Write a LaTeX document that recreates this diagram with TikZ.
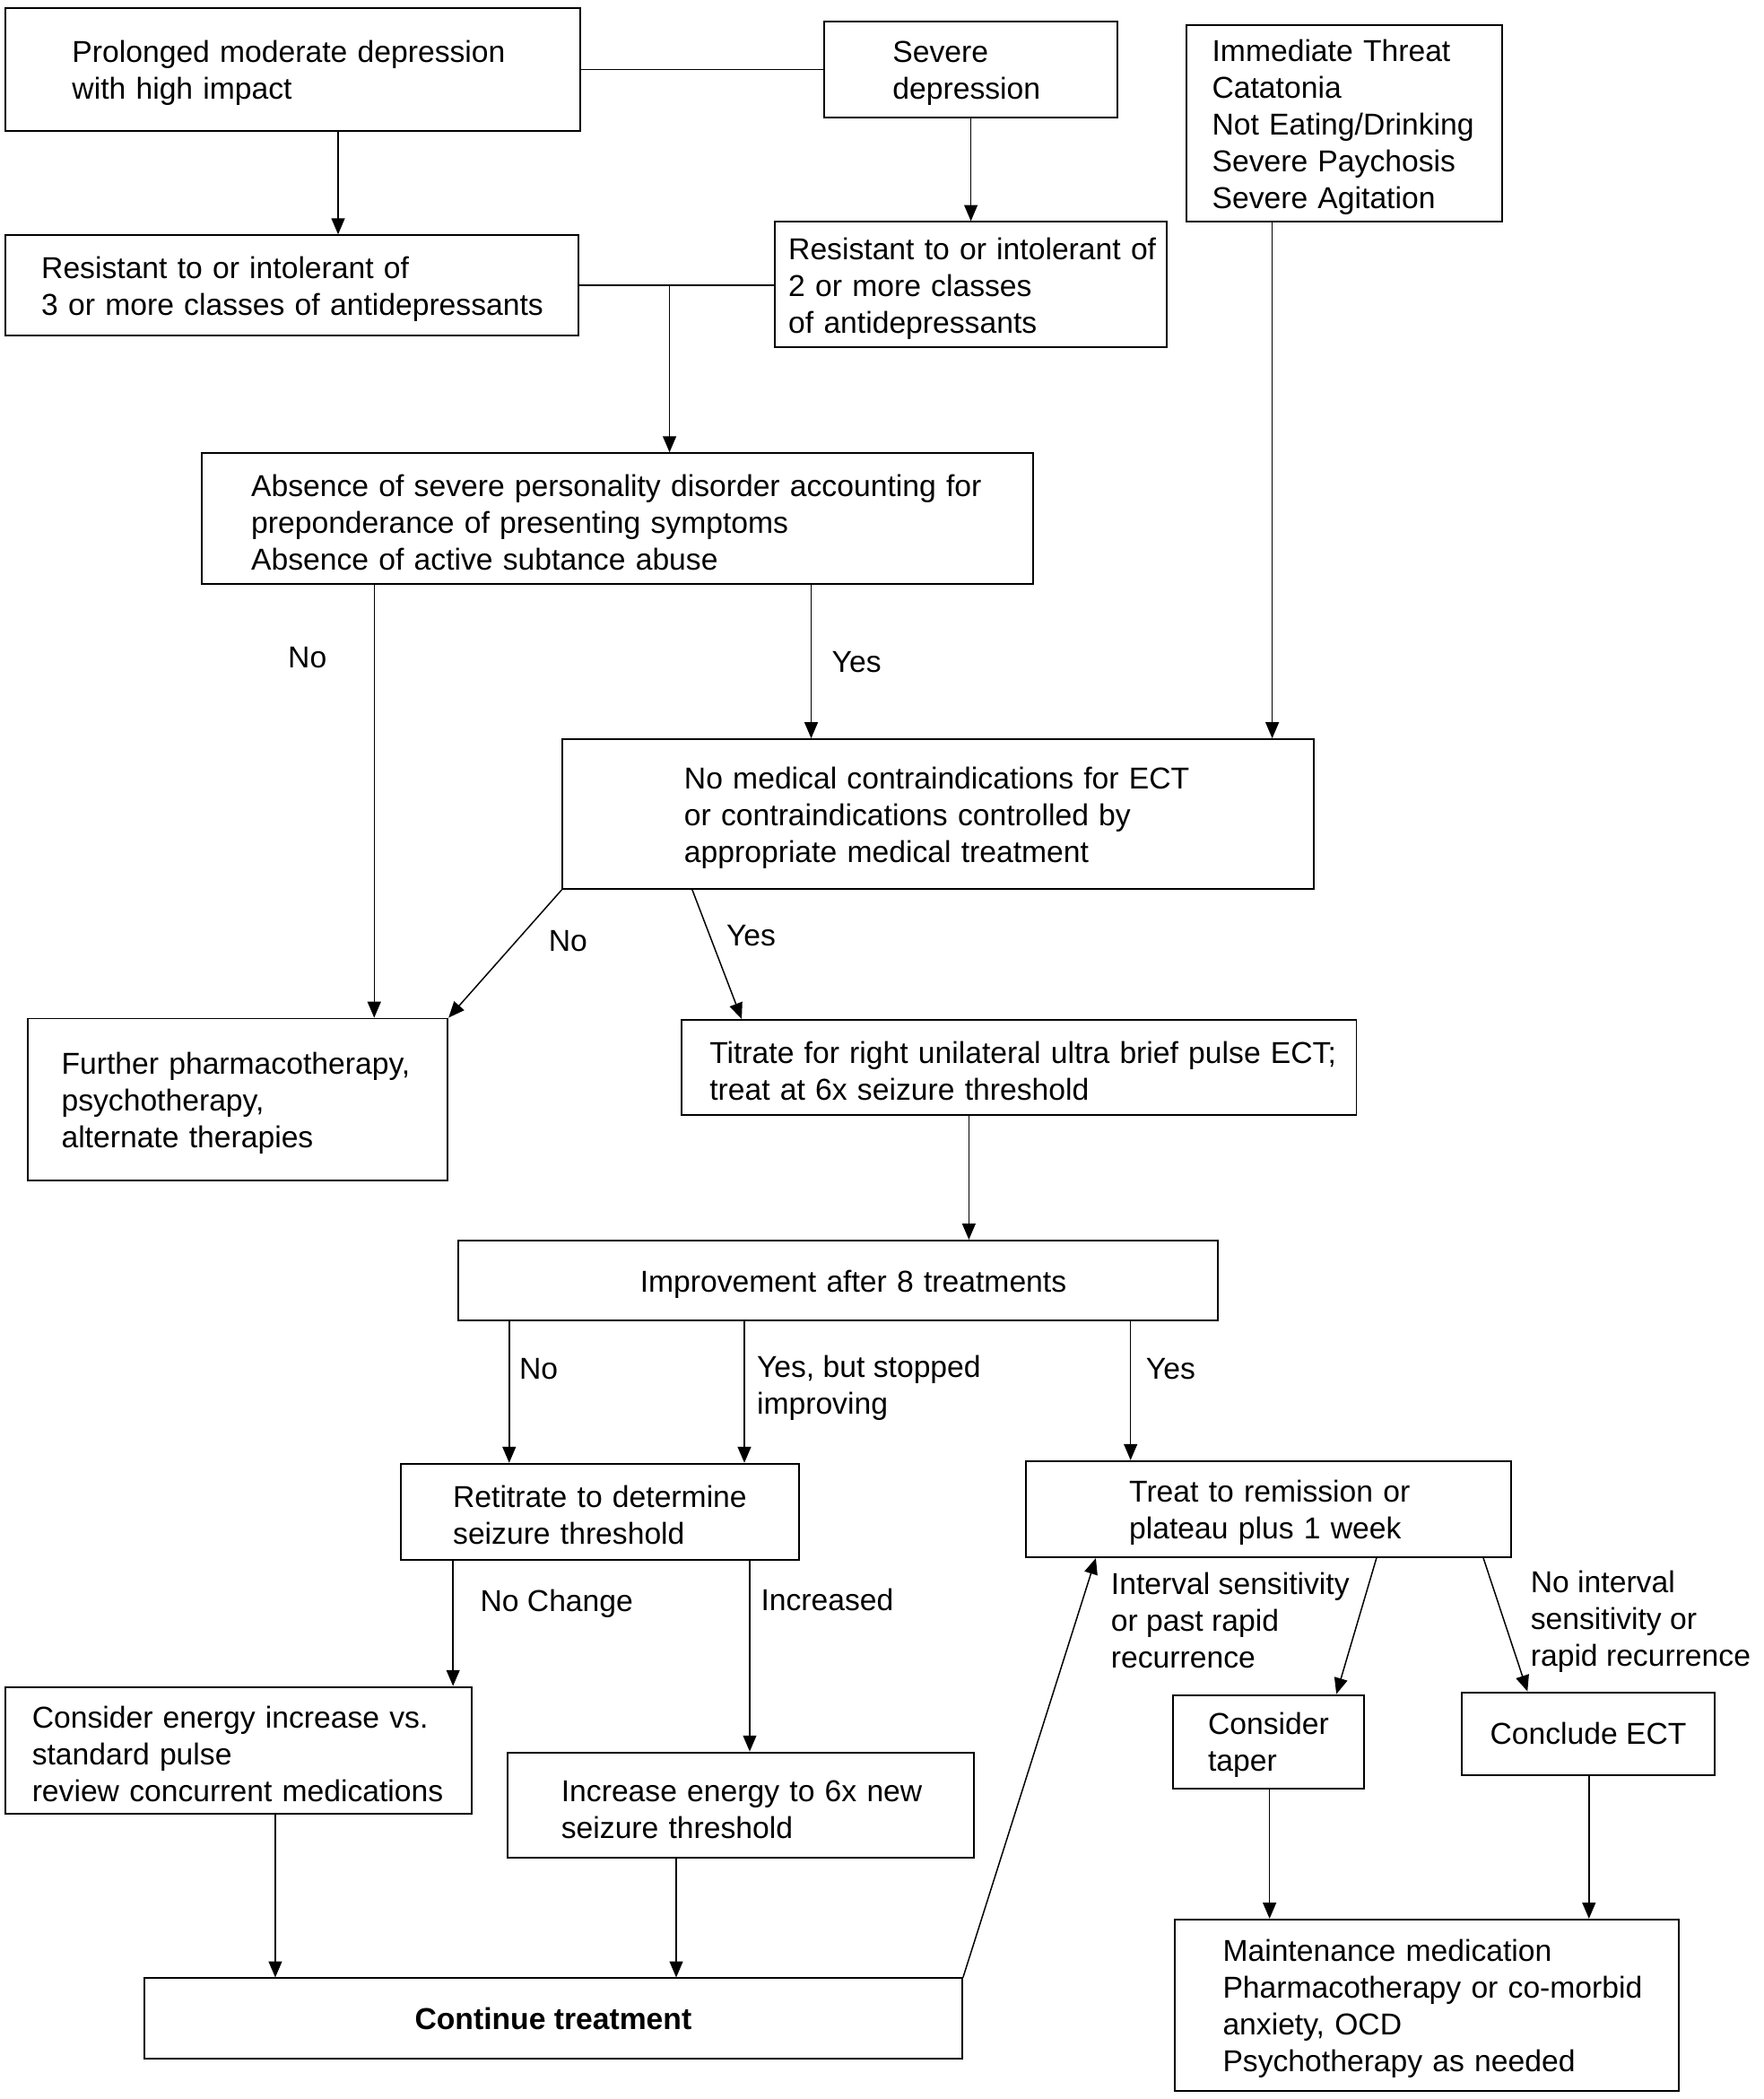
\documentclass[tikz,border=0pt]{standalone}
\usepackage{fontspec}
\setmainfont{Liberation Sans}
\usetikzlibrary{arrows.meta}
\begin{document}
\begin{tikzpicture}[x=0.5pt,y=-0.5pt,
  every node/.style={font=\fontsize{11.3}{13.75}\selectfont},
  box/.style={draw, line width=0.65pt, align=left, inner ysep=0pt},
  cbox/.style={draw, line width=0.65pt, align=center, inner sep=0pt},
  lab/.style={inner sep=0pt, align=left},
  arr/.style={line width=0.5pt, -{Triangle[length=6pt,width=5pt]}},
  ln/.style={line width=0.65pt}]
\newcommand\fl[1]{\mbox{\rule{0pt}{10.9pt}#1}}
\useasboundingbox (0,0) rectangle (1320,1570.3);
% boxes
\node[box, minimum width=215pt, minimum height=46pt, inner xsep=25pt, text width=165pt] (A) at (219,52)
  {\fl{Prolonged moderate depression}\\\mbox{with high impact}};
\node[box, minimum width=109.5pt, minimum height=36pt, inner xsep=25.5pt, text width=58.5pt] (B) at (726.5,52)
  {\fl{Severe}\\\mbox{depression}};
\node[box, minimum width=118pt, minimum height=73.5pt, inner xsep=9.5pt, text width=99pt] (C) at (1006,92.5)
  {\fl{Immediate Threat}\\\mbox{Catatonia}\\\mbox{Not Eating/Drinking}\\\mbox{Severe Paychosis}\\\mbox{Severe Agitation}};
\node[box, minimum width=214.5pt, minimum height=37.5pt, inner xsep=13.5pt, text width=187.5pt] (D) at (218.5,213.5)
  {\fl{Resistant to or intolerant of}\\\mbox{3 or more classes of antidepressants}};
\node[box, minimum width=146.5pt, minimum height=47pt, inner xsep=5pt, text width=136.5pt] (E) at (726.5,213)
  {\fl{Resistant to or intolerant of}\\\mbox{2 or more classes}\\\mbox{of antidepressants}};
\node[box, minimum width=311pt, minimum height=49pt, inner xsep=18.5pt, text width=274pt] (F) at (462,388)
  {\fl{Absence of severe personality disorder accounting for}\\\mbox{preponderance of presenting symptoms}\\\mbox{Absence of active subtance abuse}};
\node[box, minimum width=281pt, minimum height=56pt, inner xsep=45.5pt, text width=190pt] (G) at (702,609)
  {\fl{No medical contraindications for ECT}\\\mbox{or contraindications controlled by}\\\mbox{appropriate medical treatment}};
\node[box, minimum width=157pt, minimum height=60.5pt, inner xsep=12.5pt, text width=132pt] (H) at (178,822.5)
  {\fl{Further pharmacotherapy,}\\\mbox{psychotherapy,}\\\mbox{alternate therapies}};
\node[box, minimum width=252.5pt, minimum height=35.5pt, inner xsep=10.5pt, text width=231.5pt] (I) at (762.5,798.5)
  {\fl{Titrate for right unilateral ultra brief pulse ECT;}\\\mbox{treat at 6x seizure threshold}};
\node[box, minimum width=284pt, minimum height=30pt, inner xsep=68pt, text width=148pt] (J) at (627,958)
  {\fl{Improvement after 8 treatments}};
\node[box, minimum width=149pt, minimum height=36pt, inner xsep=19.5pt, text width=110pt] (K) at (449,1131)
  {\fl{Retitrate to determine}\\\mbox{seizure threshold}};
\node[box, minimum width=181.5pt, minimum height=36pt, inner xsep=38.5pt, text width=104.5pt] (L) at (949.5,1129)
  {\fl{Treat to remission or}\\\mbox{plateau plus 1 week}};
\node[box, minimum width=174.5pt, minimum height=47.5pt, inner xsep=10pt, text width=154.5pt] (M) at (178.5,1309.5)
  {\fl{Consider energy increase vs.}\\\mbox{standard pulse}\\\mbox{review concurrent medications}};
\node[box, minimum width=174.5pt, minimum height=39.5pt, inner xsep=20pt, text width=134.5pt] (N) at (554.5,1350.5)
  {\fl{Increase energy to 6x new}\\\mbox{seizure threshold}};
\node[cbox, minimum width=306pt, minimum height=30pt] (O) at (414,1510)
  {\bfseries Continue treatment};
\node[box, minimum width=71.5pt, minimum height=35pt, inner xsep=13pt, text width=45.5pt] (P) at (949.5,1303)
  {\fl{Consider}\\\mbox{taper}};
\node[cbox, minimum width=94.5pt, minimum height=31pt] (Q) at (1188.5,1297)
  {Conclude ECT};
\node[box, minimum width=188.5pt, minimum height=64pt, inner xsep=18pt, text width=152.5pt] (R) at (1067.5,1500)
  {\fl{Maintenance medication}\\\mbox{Pharmacotherapy or co-morbid}\\\mbox{anxiety, OCD}\\\mbox{Psychotherapy as needed}};
% column coordinates
\coordinate (x253) at (253,0);
\coordinate (x501) at (501,0);
\coordinate (x280) at (280,0);
\coordinate (x607) at (607,0);
\coordinate (x952) at (952,0);
\coordinate (x518) at (518,0);
\coordinate (x555) at (555,0);
\coordinate (x725) at (725,0);
\coordinate (x381) at (381,0);
\coordinate (x557) at (557,0);
\coordinate (x846) at (846,0);
\coordinate (x339) at (339,0);
\coordinate (x561) at (561,0);
\coordinate (x206) at (206,0);
\coordinate (x506) at (506,0);
\coordinate (x820) at (820,0);
\coordinate (x1030) at (1030,0);
\coordinate (x1000) at (1000,0);
\coordinate (x1110) at (1110,0);
\coordinate (x1143) at (1143,0);
\coordinate (x950) at (950,0);
\coordinate (x1189) at (1189,0);
% connectors
\draw[ln] (A.east) -- (B.west);
\draw[arr] (x253 |- A.south) -- (x253 |- D.north);
\draw[arr] (B.south) -- (E.north);
\draw[ln] (D.east) -- (D.east -| E.west);
\draw[arr] (x501 |- D.east) -- (x501 |- F.north);
\draw[arr] (x280 |- F.south) -- (x280 |- H.north);
\draw[arr] (x607 |- F.south) -- (x607 |- G.north);
\draw[arr] (x952 |- C.south) -- (x952 |- G.north);
\draw[arr] (G.south west) -- (H.north east);
\draw[arr] (x518 |- G.south) -- (x555 |- I.north);
\draw[arr] (x725 |- I.south) -- (x725 |- J.north);
\draw[arr] (x381 |- J.south) -- (x381 |- K.north);
\draw[arr] (x557 |- J.south) -- (x557 |- K.north);
\draw[arr] (x846 |- J.south) -- (x846 |- L.north);
\draw[arr] (x339 |- K.south) -- (x339 |- M.north);
\draw[arr] (x561 |- K.south) -- (x561 |- N.north);
\draw[arr] (x206 |- M.south) -- (x206 |- O.north);
\draw[arr] (x506 |- N.south) -- (x506 |- O.north);
\draw[arr] (O.north east) -- (x820 |- L.south);
\draw[arr] (x1030 |- L.south) -- (x1000 |- P.north);
\draw[arr] (x1110 |- L.south) -- (x1143 |- Q.north);
\draw[arr] (x950 |- P.south) -- (x950 |- R.north);
\draw[arr] (x1189 |- Q.south) -- (x1189 |- R.north);
% labels
\node[lab] (l1) at (230,492) {No};
\node[lab] (l2) at (641,495) {Yes};
\node[lab] (l3) at (425,704) {No};
\node[lab] (l4) at (562,700) {Yes};
\node[lab] (l5) at (403,1024) {No};
\node[lab, anchor=west] (l6) at (566,1038) {Yes, but stopped\\improving};
\node[lab] (l7) at (876,1024) {Yes};
\node[lab, anchor=west] (l8) at (359,1200) {No Change};
\node[lab, anchor=west] (l9) at (569,1197) {Increased};
\node[lab, anchor=west] (l10) at (831,1212) {Interval sensitivity\\or past rapid\\recurrence};
\node[lab, anchor=west] (l11) at (1145,1213) {No interval\\sensitivity or\\rapid recurrence};
\end{tikzpicture}
\end{document}
